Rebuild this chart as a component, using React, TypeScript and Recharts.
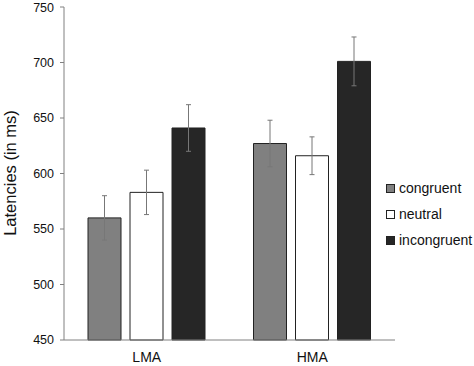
import { BarChart, Bar, XAxis, YAxis, ErrorBar, Legend } from 'recharts'

const groups = ['LMA', 'HMA']
const congruent = [560, 627]
const neutral = [583, 616]
const incongruent = [641, 701]
const congruentErr = [20, 21]
const neutralErr = [20, 17]
const incongruentErr = [21, 22]
const yTicks = [450, 500, 550, 600, 650, 700, 750]

const series = [
  { key: 'congruent', name: 'congruent', fill: '#808080' },
  { key: 'neutral', name: 'neutral', fill: '#ffffff' },
  { key: 'incongruent', name: 'incongruent', fill: '#262626' },
]

const data = groups.map((g, i) => ({
  name: g,
  congruent: congruent[i],
  neutral: neutral[i],
  incongruent: incongruent[i],
  congruentErr: congruentErr[i],
  neutralErr: neutralErr[i],
  incongruentErr: incongruentErr[i],
}))

const font = '"Liberation Sans", Arial, sans-serif'

function LegendBox() {
  return (
    <div style={{ fontFamily: font, fontSize: 14, color: '#111' }}>
      {series.map((s) => (
        <div key={s.key} style={{ display: 'flex', alignItems: 'center', height: 26 }}>
          <span
            style={{
              display: 'inline-block',
              width: 7,
              height: 7,
              background: s.fill,
              border: '1px solid #222',
              marginRight: 4,
            }}
          />
          <span>{s.name}</span>
        </div>
      ))}
    </div>
  )
}

export default function App() {
  return (
    <div style={{ position: 'absolute', left: 0, top: 0, width: 474, height: 366, background: '#fff' }}>
      <BarChart
        width={474}
        height={366}
        data={data}
        margin={{ top: 7, right: 79, bottom: 0, left: 0 }}
        barSize={33}
        barGap={9}
      >
        <XAxis
          dataKey="name"
          stroke="#808080"
          tickLine={false}
          tickSize={0}
          tickMargin={12}
          height={26}
          tick={{ fill: '#111', fontSize: 14, fontFamily: font }}
        />
        <YAxis
          domain={[450, 750]}
          ticks={yTicks}
          width={64}
          stroke="#808080"
          tickSize={4}
          tickMargin={6}
          tick={{ fill: '#111', fontSize: 12.5, fontFamily: font }}
          label={{
            content: () => (
              <text
                x={10}
                y={173}
                transform="rotate(-90 10 173)"
                textAnchor="middle"
                dominantBaseline="central"
                fill="#111"
                fontSize={16.5}
                fontFamily={font}
              >
                Latencies (in ms)
              </text>
            ),
          }}
        />
        <Legend
          layout="vertical"
          align="center"
          verticalAlign="middle"
          wrapperStyle={{ left: 386, top: 175, width: 90 }}
          content={() => <LegendBox />}
        />
        {series.map((s) => (
          <Bar
            key={s.key}
            dataKey={s.key}
            name={s.name}
            fill={s.fill}
            stroke="#222"
            strokeWidth={1}
            isAnimationActive={false}
          >
            <ErrorBar dataKey={s.key + 'Err'} width={2.5} stroke="#777" strokeWidth={1} />
          </Bar>
        ))}
      </BarChart>
    </div>
  )
}
